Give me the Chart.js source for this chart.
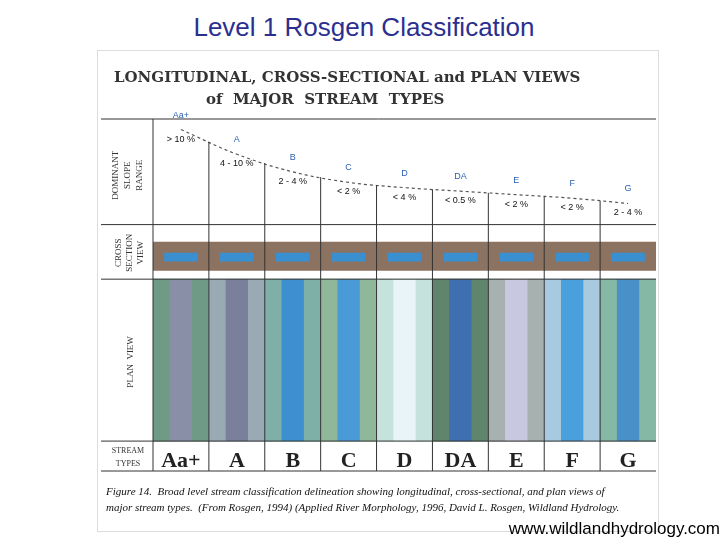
<!DOCTYPE html>
<html><head><meta charset="utf-8">
<script src="https://cdn.jsdelivr.net/npm/chart.js@4"></script>
<style>
body{margin:0;width:728px;height:546px;background:#fff;position:relative;overflow:hidden;font-family:"Liberation Sans",Arial,sans-serif}
#t{position:absolute;top:12px;left:0;width:728px;text-align:center;font-size:26px;color:#2b2f8f}
#u{position:absolute;right:8px;top:519px;font-size:17px;color:#000}
#box{position:absolute;left:97px;top:50px;width:560px;height:480px;border:1px solid #ddd;background:#fff}
</style></head><body>
<div id="t">Level 1 Rosgen Classification</div>
<div id="box"><canvas id="c" width="560" height="480"></canvas></div>
<div id="u">www.wildlandhydrology.com</div>
<script>
const streamTypes=["Aa+","A","B","C","D","DA","E","F","G"];
const slopeLabels=["> 10 %","4 - 10 %","2 - 4 %","< 2 %","< 4 %","< 0.5 %","< 2 %","< 2 %","2 - 4 %"];
const slopeLine=[97,90,85,82,80.5,79.5,78.5,77.5,76];
const planColors=["#6f9a86","#9aaab4","#7fb0a8","#8fb89a","#c6e2dc","#5f866c","#a7b2b0","#a8cae0","#86b8a6"];
const channelColors=["#8a8fa8","#7a7f9c","#3d8fd0","#4a9ad8","#e8f4f8","#3e6fb0","#c8c8e0","#4aa0dc","#4a90c8"];
const plan=streamTypes.map(()=>[8.5,54.5]);
const section=streamTypes.map(()=>[57,65]);
const water=streamTypes.map(()=>[59.5,62]);
const deco={id:'deco',afterDraw(ch){
 const c=ch.ctx,a=ch.chartArea,x=ch.scales.x,y=ch.scales.y;
 c.save();
 c.fillStyle='#333';c.textAlign='left';
 c.font='bold 15px "DejaVu Serif",serif';
 c.fillText('LONGITUDINAL, CROSS-SECTIONAL and PLAN VIEWS',16,31);
 c.fillText('of  MAJOR  STREAM  TYPES',108,53);
 c.textAlign='center';
 c.strokeStyle='#333';c.lineWidth=1;
 [54.5,70,8.5,0,100].forEach(v=>{c.beginPath();c.moveTo(3,y.getPixelForValue(v));c.lineTo(a.right,y.getPixelForValue(v));c.stroke();});
 c.beginPath();c.moveTo(a.left,y.getPixelForValue(100));c.lineTo(a.left,a.bottom);c.stroke();
 for(let i=1;i<streamTypes.length;i++){const px=(x.getPixelForValue(i-1)+x.getPixelForValue(i))/2;
  c.beginPath();c.moveTo(px,y.getPixelForValue(slopeLine[i-1]+ (slopeLine[i]-slopeLine[i-1])/2));c.lineTo(px,a.bottom);c.stroke();}
 streamTypes.forEach((s,i)=>{const px=x.getPixelForValue(i);
  c.font='bold 22px "Liberation Serif",serif';c.fillStyle='#222';c.fillText(s,px,y.getPixelForValue(1.2));
  c.font='9px "Liberation Sans",sans-serif';c.fillStyle='#2a5fb0';c.fillText(s,px,y.getPixelForValue(slopeLine[i])-12);
  c.fillStyle='#111';c.fillText(slopeLabels[i],px,y.getPixelForValue(slopeLine[i])+12);});
 c.font='9px "Liberation Serif",serif';c.fillStyle='#333';
 [['DOMINANT',84,-13],['SLOPE',84,-1],['RANGE',84,11],['CROSS',62,-10],['SECTION',62,1],['VIEW',62,12],['PLAN  VIEW',31,2]].forEach(([t,v,o])=>{c.save();c.translate(a.left-25+o+3,y.getPixelForValue(v));c.rotate(-Math.PI/2);c.fillText(t,0,0);c.restore();});
 c.font='8px "Liberation Serif",serif';c.fillText('STREAM',a.left-25,y.getPixelForValue(5));c.fillText('TYPES',a.left-25,y.getPixelForValue(1.5));
 c.textAlign='left';c.font='italic 11px "Liberation Serif",serif';c.fillStyle='#111';
 c.fillText('Figure 14.  Broad level stream classification delineation showing longitudinal, cross-sectional, and plan views of',8,y.getPixelForValue(0)+24);
 c.fillText('major stream types.  (From Rosgen, 1994) (Applied River Morphology, 1996, David L. Rosgen, Wildland Hydrology.',8,y.getPixelForValue(0)+40);
 c.restore();}};
new Chart(document.getElementById('c'),{
 data:{labels:streamTypes,datasets:[
  {type:'line',data:slopeLine,borderColor:'#555',borderDash:[3,3],borderWidth:1.2,pointRadius:0,tension:0.4},
  {type:'bar',data:water,backgroundColor:'#3a8fd0',grouped:false,barPercentage:0.6,categoryPercentage:1},
  {type:'bar',data:section,backgroundColor:'#8c7260',grouped:false,barPercentage:1,categoryPercentage:1},
  {type:'bar',data:plan,backgroundColor:channelColors,grouped:false,barPercentage:0.4,categoryPercentage:1},
  {type:'bar',data:plan,backgroundColor:planColors,grouped:false,barPercentage:1,categoryPercentage:1}
 ]},
 options:{responsive:false,animation:false,layout:{padding:{left:55,top:68,right:2,bottom:60}},
  plugins:{legend:{display:false},tooltip:{enabled:false}},
  scales:{x:{type:'category',display:false,offset:true},y:{display:false,min:0,max:100}}},
 plugins:[deco]});
</script></body></html>
